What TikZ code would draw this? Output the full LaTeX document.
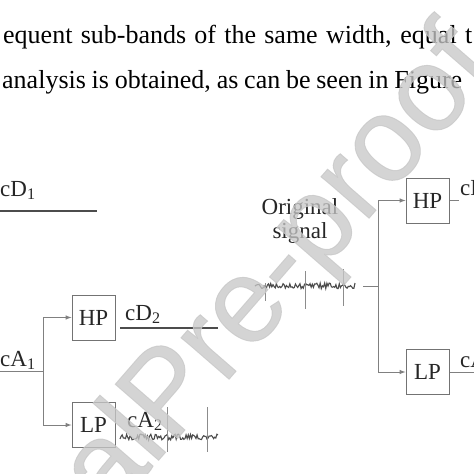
\documentclass[tikz,border=0pt]{standalone}
\usepackage{fontspec}
\setmainfont{Liberation Serif}
\newfontfamily\marksans[FakeBold=0.8]{Liberation Sans}
\usetikzlibrary{shapes,arrows,positioning,fit}

\begin{document}
\begin{tikzpicture}[x=1pt, y=-1pt, >=latex]
	\tikzstyle{Filter} = [rectangle, draw=black!55, line width=1pt, minimum width=43pt, minimum height=45pt, inner sep=0pt, font=\fontsize{23}{25}\selectfont, text=black!85]
	\tikzstyle{Label}  = [inner sep=0pt, font=\fontsize{23}{24}\selectfont, text=black!85]
	\tikzstyle{Body}   = [inner sep=0pt, anchor=base west, font=\fontsize{26}{26}\selectfont]
	\tikzstyle{Wire}   = [draw=black!50, line width=1pt]
	\tikzstyle{Band}   = [draw=black!70, line width=1.6pt]
	\tikzstyle{Wave}   = [draw=black!70, line width=1.1pt]
	\tikzstyle{Spike}  = [draw=black!45, line width=0.7pt]
	\tikzstyle{Mark}   = [inner sep=0pt, font=\marksans\fontsize{120}{120}\selectfont, text=black!22, opacity=0.77]

	\useasboundingbox (0,0) rectangle (474,474);
	\clip (0,0) rectangle (474,474);
	\pgfmathsetseed{11}

	% text of the page
	\node[Body] (line2) at (3,43) {\makebox[469pt][s]{equent sub-bands of the same width, equal t}};
	\node[Body] (line3) at (2,88) {\makebox[460pt][s]{analysis is obtained, as can be seen in Figure}};

	% first level
	\node[Label, align=center] (orig) at (300,221) {Original\\signal};
	\draw[Wave] plot[domain=255:355, samples=90] (\x, {286+3*rand});
	\foreach \s/\t/\b in {265/283/301, 305/271/309, 343/269/306}
		\draw[Spike] (\s,\t) -- (\s,\b);
	\coordinate (in0) at (363,286);
	\coordinate (sp0) at (378,286);
	\node[Filter] (hp1) at (427.5,200.5) {HP};
	\node[Filter] (lp1) at (427.5,372) {LP};
	\draw[Wire] (in0) -- (sp0);
	\draw[Wire, ->] (sp0) |- (hp1);
	\draw[Wire, ->] (sp0) |- (lp1);
	\coordinate (d1) at (459,200.5);
	\coordinate (a1) at (474,372);
	\draw[Wire] (hp1) -- (d1);
	\draw[Wire] (lp1) -- (a1);
	\node[Label, anchor=base west] (cd1r) at (460,195) {cD\textsubscript{1}};
	\node[Label, anchor=base west] (ca1r) at (460,367) {cA\textsubscript{1}};

	% second level
	\node[Label, anchor=base west] (cd1) at (0,196) {cD\textsubscript{1}};
	\draw[Band] (0,211) -- (97,211);
	\node[Label, anchor=base west] (ca1) at (0,366) {cA\textsubscript{1}};
	\coordinate (in1) at (0,371.5);
	\coordinate (sp1) at (43,371.5);
	\node[Filter] (hp2) at (93.5,317.5) {HP};
	\node[Filter] (lp2) at (93.5,425) {LP};
	\draw[Wire] (in1) -- (sp1);
	\draw[Wire, ->] (sp1) |- (hp2);
	\draw[Wire, ->] (sp1) |- (lp2);
	\node[Label, anchor=base west] (cd2) at (125,320) {cD\textsubscript{2}};
	\draw[Band] (120,328) -- (218,328);
	\node[Label, anchor=base west] (ca2) at (127,427) {cA\textsubscript{2}};
	\draw[Wave] plot[domain=120:218, samples=90] (\x, {437+3*rand});
	\foreach \s in {167, 207}
		\draw[Spike] (\s,407) -- (\s,452);

	% watermark
	\node[Mark, anchor=base west, rotate=49] (wm) at (171,446) {Pre-proof};
	\node[Mark, anchor=base east, rotate=49] (wj) at (wm.base west) {Journal\ };
\end{tikzpicture}
\end{document}
